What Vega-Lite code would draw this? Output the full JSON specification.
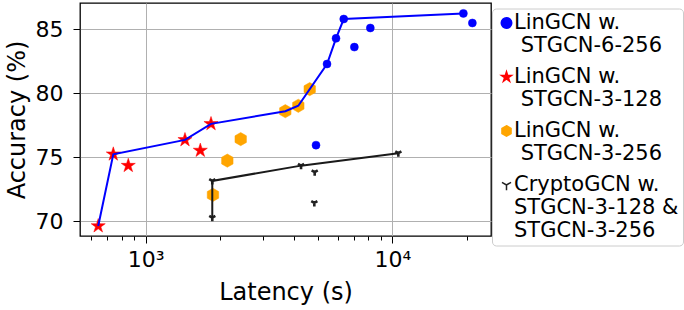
{
  "$schema": "https://vega.github.io/schema/vega-lite/v6.json",
  "width": 411,
  "height": 233,
  "autosize": {"type": "none"},
  "padding": {"left": 80, "top": 3, "right": 193, "bottom": 74},
  "config": {
    "font": "DejaVu Sans",
    "view": {"stroke": "#000000", "strokeWidth": 1.3},
    "axis": {
      "domain": false,
      "gridColor": "#b0b0b0",
      "gridWidth": 1,
      "tickColor": "#000000",
      "tickWidth": 1,
      "labelColor": "#000000",
      "titleColor": "#000000",
      "titleFontWeight": "normal",
      "labelFontSize": 22,
      "titleFontSize": 24,
      "labelFont": "DejaVu Sans",
      "titleFont": "DejaVu Sans"
    },
    "legend": {
      "orient": "none",
      "legendX": 412,
      "legendY": 5.5,
      "padding": 4,
      "rowPadding": 9,
      "labelOffset": -3,
      "labelFontSize": 21,
      "labelFont": "DejaVu Sans",
      "labelColor": "#000000",
      "labelLimit": 300,
      "symbolSize": 110,
      "symbolStrokeWidth": 1.5,
      "strokeColor": "#cccccc",
      "fillColor": "#ffffff",
      "cornerRadius": 4
    }
  },
  "data": {
    "values": [
      {"series": "LinGCN w. STGCN-6-256", "latency": 6353, "acc": 85.78, "line": "LinGCN", "step": 9},
      {"series": "LinGCN w. STGCN-6-256", "latency": 5911, "acc": 84.27, "line": "LinGCN", "step": 8},
      {"series": "LinGCN w. STGCN-6-256", "latency": 5435, "acc": 82.27, "line": "LinGCN", "step": 7},
      {"series": "LinGCN w. STGCN-6-256", "latency": 19410, "acc": 86.22, "line": "LinGCN", "step": 10},
      {"series": "LinGCN w. STGCN-6-256", "latency": 21110, "acc": 85.47, "line": null, "step": null},
      {"series": "LinGCN w. STGCN-6-256", "latency": 8143, "acc": 85.08, "line": null, "step": null},
      {"series": "LinGCN w. STGCN-6-256", "latency": 7015, "acc": 83.59, "line": null, "step": null},
      {"series": "LinGCN w. STGCN-6-256", "latency": 4904, "acc": 75.94, "line": null, "step": null},
      {"series": "LinGCN w. STGCN-3-128", "latency": 642, "acc": 69.63, "line": "LinGCN", "step": 1},
      {"series": "LinGCN w. STGCN-3-128", "latency": 739, "acc": 75.23, "line": "LinGCN", "step": 2},
      {"series": "LinGCN w. STGCN-3-128", "latency": 850, "acc": 74.34, "line": null, "step": null},
      {"series": "LinGCN w. STGCN-3-128", "latency": 1443, "acc": 76.35, "line": "LinGCN", "step": 3},
      {"series": "LinGCN w. STGCN-3-128", "latency": 1665, "acc": 75.52, "line": null, "step": null},
      {"series": "LinGCN w. STGCN-3-128", "latency": 1840, "acc": 77.6, "line": "LinGCN", "step": 4},
      {"series": "LinGCN w. STGCN-3-256", "latency": 1874, "acc": 72.06, "line": null, "step": null},
      {"series": "LinGCN w. STGCN-3-256", "latency": 2143, "acc": 74.73, "line": null, "step": null},
      {"series": "LinGCN w. STGCN-3-256", "latency": 2428, "acc": 76.41, "line": null, "step": null},
      {"series": "LinGCN w. STGCN-3-256", "latency": 3682, "acc": 78.59, "line": "LinGCN", "step": 5},
      {"series": "LinGCN w. STGCN-3-256", "latency": 4157, "acc": 79.01, "line": "LinGCN", "step": 6},
      {"series": "LinGCN w. STGCN-3-256", "latency": 4624, "acc": 80.31, "line": null, "step": null},
      {"series": "CryptoGCN w. STGCN-3-128 & STGCN-3-256", "latency": 1862, "acc": 70.28, "line": "CryptoGCN", "step": 1},
      {"series": "CryptoGCN w. STGCN-3-128 & STGCN-3-256", "latency": 1862, "acc": 73.15, "line": "CryptoGCN", "step": 2},
      {"series": "CryptoGCN w. STGCN-3-128 & STGCN-3-256", "latency": 4264, "acc": 74.34, "line": "CryptoGCN", "step": 3},
      {"series": "CryptoGCN w. STGCN-3-128 & STGCN-3-256", "latency": 4844, "acc": 73.83, "line": null, "step": null},
      {"series": "CryptoGCN w. STGCN-3-128 & STGCN-3-256", "latency": 4827, "acc": 71.43, "line": null, "step": null},
      {"series": "CryptoGCN w. STGCN-3-128 & STGCN-3-256", "latency": 10576, "acc": 75.31, "line": "CryptoGCN", "step": 4}
    ]
  },
  "encoding": {
    "x": {
      "field": "latency",
      "type": "quantitative",
      "scale": {"type": "log", "domain": [541.6, 25120], "nice": false},
      "axis": {
        "title": "Latency (s)",
        "values": [600, 700, 800, 900, 1000, 2000, 3000, 4000, 5000, 6000, 7000, 8000, 9000, 10000, 20000],
        "labelExpr": "datum.value == 1000 ? '10³' : (datum.value == 10000 ? '10⁴' : '')",
        "labelOverlap": false,
        "labelFlush": false,
        "labelPadding": 6,
        "titlePadding": 10,
        "tickSize": {"condition": {"test": "datum.value == 1000 || datum.value == 10000", "value": 7}, "value": 4},
        "gridOpacity": {"condition": {"test": "datum.value == 1000 || datum.value == 10000", "value": 1}, "value": 0}
      }
    },
    "y": {
      "field": "acc",
      "type": "quantitative",
      "scale": {"domain": [68.85, 87.03], "nice": false, "zero": false},
      "axis": {
        "title": "Accuracy (%)",
        "values": [70, 75, 80, 85],
        "tickSize": 7,
        "labelPadding": 10,
        "titlePadding": 6
      }
    }
  },
  "layer": [
    {
      "mark": {"type": "point", "filled": true, "opacity": 1},
      "encoding": {
        "fill": {
          "field": "series",
          "type": "nominal",
          "scale": {
            "domain": ["LinGCN w. STGCN-6-256", "LinGCN w. STGCN-3-128", "LinGCN w. STGCN-3-256", "CryptoGCN w. STGCN-3-128 & STGCN-3-256"],
            "range": ["#0000ff", "#ff0000", "#ffa500", "#222222"]
          },
          "legend": {
            "title": null,
            "labelExpr": "datum.label == 'CryptoGCN w. STGCN-3-128 & STGCN-3-256' ? ['CryptoGCN w.', 'STGCN-3-128 &', 'STGCN-3-256'] : [slice(datum.label, 0, 9), '\u200b\u00a0' + slice(datum.label, 10)]"
          }
        },
        "stroke": {
          "field": "series",
          "type": "nominal",
          "scale": {
            "domain": ["LinGCN w. STGCN-6-256", "LinGCN w. STGCN-3-128", "LinGCN w. STGCN-3-256", "CryptoGCN w. STGCN-3-128 & STGCN-3-256"],
            "range": ["#0000ff", "#ff0000", "#ffa500", "#222222"]
          },
          "legend": {
            "title": null,
            "labelExpr": "datum.label == 'CryptoGCN w. STGCN-3-128 & STGCN-3-256' ? ['CryptoGCN w.', 'STGCN-3-128 &', 'STGCN-3-256'] : [slice(datum.label, 0, 9), '\u200b\u00a0' + slice(datum.label, 10)]"
          }
        },
        "shape": {
          "field": "series",
          "type": "nominal",
          "scale": {
            "domain": ["LinGCN w. STGCN-6-256", "LinGCN w. STGCN-3-128", "LinGCN w. STGCN-3-256", "CryptoGCN w. STGCN-3-128 & STGCN-3-256"],
            "range": [
              "circle",
              "M0,-1L0.225,-0.309L0.951,-0.309L0.363,0.118L0.588,0.809L0,0.382L-0.588,0.809L-0.363,0.118L-0.951,-0.309L-0.225,-0.309Z",
              "M0,-1L0.866,-0.5L0.866,0.5L0,1L-0.866,0.5L-0.866,-0.5Z",
              "M0,0L0,1M0,0L0.866,-0.5M0,0L-0.866,-0.5"
            ]
          },
          "legend": {
            "title": null,
            "labelExpr": "datum.label == 'CryptoGCN w. STGCN-3-128 & STGCN-3-256' ? ['CryptoGCN w.', 'STGCN-3-128 &', 'STGCN-3-256'] : [slice(datum.label, 0, 9), '\u200b\u00a0' + slice(datum.label, 10)]"
          }
        },
        "size": {
          "condition": [
            {"test": "datum.series == 'LinGCN w. STGCN-6-256'", "value": 64},
            {"test": "datum.series == 'LinGCN w. STGCN-3-128'", "value": 220},
            {"test": "datum.series == 'LinGCN w. STGCN-3-256'", "value": 175}
          ],
          "value": 50
        },
        "strokeWidth": {
          "condition": {"test": "datum.series == 'CryptoGCN w. STGCN-3-128 & STGCN-3-256'", "value": 2.6},
          "value": 0.5
        }
      }
    },
    {
      "transform": [{"filter": "datum.line == 'LinGCN'"}],
      "mark": {"type": "line", "color": "#0000ff", "strokeWidth": 2},
      "encoding": {"order": {"field": "step", "type": "quantitative"}}
    },
    {
      "transform": [{"filter": "datum.line == 'CryptoGCN'"}],
      "mark": {"type": "line", "color": "#1a1a1a", "strokeWidth": 2},
      "encoding": {"order": {"field": "step", "type": "quantitative"}}
    }
  ]
}
